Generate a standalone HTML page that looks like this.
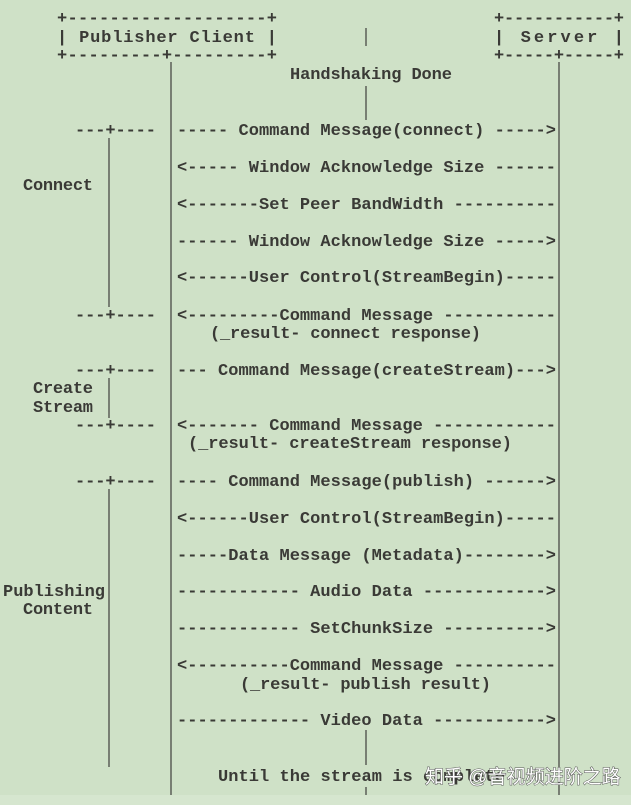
<!DOCTYPE html>
<html><head><meta charset="utf-8"><style>
html,body{margin:0;padding:0;background:#cfe1c7;}
svg{display:block}
text{font-family:"Liberation Mono",monospace;font-weight:bold;font-size:17px;fill:#3a3a36;}
.wm{font-family:"Liberation Sans","Noto Sans CJK SC",sans-serif;font-weight:normal;font-size:19px;fill:#fff;stroke:#555;stroke-width:1px;paint-order:stroke;}
</style></head><body>
<svg width="631" height="805" viewBox="0 0 631 805" xmlns="http://www.w3.org/2000/svg">
<rect x="0" y="0" width="631" height="805" fill="#cfe1c7"/>
<rect x="0" y="795" width="631" height="10" fill="#d6e6cf"/>
<g stroke="#4a4a46" stroke-width="1.3">
<line x1="171" y1="62" x2="171" y2="795"/>
<line x1="559" y1="62" x2="559" y2="795"/>
<line x1="366" y1="28" x2="366" y2="46"/>
<line x1="366" y1="86" x2="366" y2="120"/>
<line x1="366" y1="730" x2="366" y2="765"/>
<line x1="366" y1="787" x2="366" y2="795"/>
<line x1="109" y1="138" x2="109" y2="307"/>
<line x1="109" y1="378" x2="109" y2="418"/>
<line x1="109" y1="489" x2="109" y2="767"/>
</g>
<text x="57" y="23" textLength="220" lengthAdjust="spacing">+-------------------+</text>
<text x="57" y="42" textLength="220" lengthAdjust="spacing">|  Publisher Client  |</text>
<text x="57" y="60" textLength="220" lengthAdjust="spacing">+---------+---------+</text>
<text x="494" y="23" textLength="130" lengthAdjust="spacing">+-----------+</text>
<text x="494" y="42" textLength="130" lengthAdjust="spacing">|    Server |</text>
<text x="494" y="60" textLength="130" lengthAdjust="spacing">+-----+-----+</text>
<text x="290" y="79" textLength="162" lengthAdjust="spacing">Handshaking Done</text>

<g>
<text x="75" y="135" textLength="81" lengthAdjust="spacing">---+----</text>
<text x="75" y="320" textLength="81" lengthAdjust="spacing">---+----</text>
<text x="75" y="375" textLength="81" lengthAdjust="spacing">---+----</text>
<text x="75" y="430" textLength="81" lengthAdjust="spacing">---+----</text>
<text x="75" y="486" textLength="81" lengthAdjust="spacing">---+----</text>
<text x="23" y="190" textLength="70" lengthAdjust="spacing">Connect</text>
<text x="33" y="393" textLength="60" lengthAdjust="spacing">Create</text>
<text x="33" y="412" textLength="60" lengthAdjust="spacing">Stream</text>
<text x="3" y="596" textLength="102" lengthAdjust="spacing">Publishing</text>
<text x="23" y="614" textLength="70" lengthAdjust="spacing">Content</text>
</g>

<g>
<text x="177" y="135" textLength="379" lengthAdjust="spacing">----- Command Message(connect) -----&gt;</text>
<text x="177" y="172" textLength="379" lengthAdjust="spacing">&lt;----- Window Acknowledge Size ------</text>
<text x="177" y="209" textLength="379" lengthAdjust="spacing">&lt;-------Set Peer BandWidth ----------</text>
<text x="177" y="246" textLength="379" lengthAdjust="spacing">------ Window Acknowledge Size -----&gt;</text>
<text x="177" y="282" textLength="379" lengthAdjust="spacing">&lt;------User Control(StreamBegin)-----</text>
<text x="177" y="320" textLength="379" lengthAdjust="spacing">&lt;---------Command Message -----------</text>
<text x="210" y="338" textLength="271" lengthAdjust="spacing">(_result- connect response)</text>
<text x="177" y="375" textLength="379" lengthAdjust="spacing">--- Command Message(createStream)---&gt;</text>
<text x="177" y="430" textLength="379" lengthAdjust="spacing">&lt;------- Command Message ------------</text>
<text x="188" y="448" textLength="324" lengthAdjust="spacing">(_result- createStream response)</text>
<text x="177" y="486" textLength="379" lengthAdjust="spacing">---- Command Message(publish) ------&gt;</text>
<text x="177" y="523" textLength="379" lengthAdjust="spacing">&lt;------User Control(StreamBegin)-----</text>
<text x="177" y="560" textLength="379" lengthAdjust="spacing">-----Data Message (Metadata)--------&gt;</text>
<text x="177" y="596" textLength="379" lengthAdjust="spacing">------------ Audio Data ------------&gt;</text>
<text x="177" y="633" textLength="379" lengthAdjust="spacing">------------ SetChunkSize ----------&gt;</text>
<text x="177" y="670" textLength="379" lengthAdjust="spacing">&lt;----------Command Message ----------</text>
<text x="240" y="689" textLength="251" lengthAdjust="spacing">(_result- publish result)</text>
<text x="177" y="725" textLength="379" lengthAdjust="spacing">------------- Video Data -----------&gt;</text>
<text x="218" y="781" textLength="287" lengthAdjust="spacing">Until the stream is complete</text>
</g>
<text class="wm" x="425" y="783">知乎 @音视频进阶之路</text>
</svg>
</body></html>
